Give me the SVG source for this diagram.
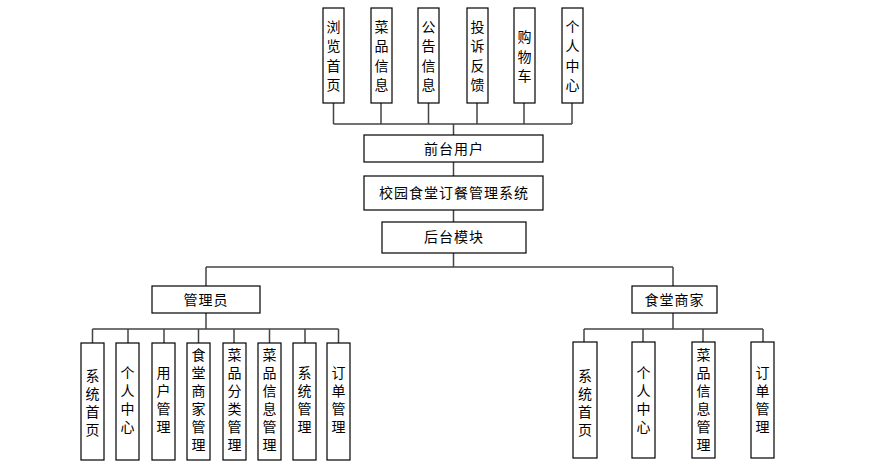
<svg xmlns="http://www.w3.org/2000/svg" width="885" height="466" viewBox="0 0 885 466">
<style>
.box{fill:#fff;stroke:#000;stroke-width:1.2}
.t{font-family:"Noto Sans CJK SC","Noto Sans",sans-serif;font-size:14px;fill:#000;text-anchor:middle}
.h{letter-spacing:1px}
.v{writing-mode:vertical-rl;letter-spacing:4px}
.vt{writing-mode:vertical-rl;letter-spacing:5.5px}
.c{fill:none;stroke:#444;stroke-width:1.5}
</style>
<rect width="885" height="466" fill="#fff"/>
<g id="connectors">
<path class="c" d="M333.5 103V124M381 103V124M428.5 103V124M477 103V124M524 103V124M572 103V124M333.5 124H572M453.5 124V135"/>
<path class="c" d="M453.5 162V176M453.5 210V222M453.5 253V267M206 267H673M206 267V286M673 267V286"/>
<path class="c" d="M206 313V329M92.5 329H338.5M92.5 329V343M128 329V343M164 329V343M198.5 329V343M234 329V343M269.5 329V343M305 329V343M338.5 329V343"/>
<path class="c" d="M673 313V329M584 329H763M584 329V342M643 329V342M703 329V342M763 329V342"/>
</g>
<g id="n-browse"><rect class="box" x="323" y="8" width="21" height="95"/><text class="t vt" x="333.5" y="58.5">浏览首页</text></g>
<g id="n-dish"><rect class="box" x="371" y="8" width="21" height="95"/><text class="t vt" x="381.5" y="58.5">菜品信息</text></g>
<g id="n-notice"><rect class="box" x="418" y="8" width="21" height="95"/><text class="t vt" x="428.5" y="58.5">公告信息</text></g>
<g id="n-complaint"><rect class="box" x="467" y="8" width="21" height="95"/><text class="t vt" x="477.5" y="58.5">投诉反馈</text></g>
<g id="n-cart"><rect class="box" x="514" y="8" width="21" height="95"/><text class="t vt" x="524.5" y="59">购物车</text></g>
<g id="n-personal"><rect class="box" x="562" y="8" width="21" height="95"/><text class="t vt" x="572.5" y="58.5">个人中心</text></g>
<g id="n-front"><rect class="box" x="364" y="135" width="179" height="27"/><text class="t h" x="454" y="154">前台用户</text></g>
<g id="n-system"><rect class="box" x="364" y="176" width="179" height="34"/><text class="t h" x="454" y="198">校园食堂订餐管理系统</text></g>
<g id="n-back"><rect class="box" x="382" y="222" width="144" height="31"/><text class="t h" x="454" y="242">后台模块</text></g>
<g id="n-admin"><rect class="box" x="152" y="286" width="108" height="27"/><text class="t h" x="206" y="304.5">管理员</text></g>
<g id="n-merchant"><rect class="box" x="632" y="286" width="85" height="27"/><text class="t h" x="674.5" y="304.5">食堂商家</text></g>
<g id="a-home"><rect class="box" x="81" y="343" width="23" height="117"/><text class="t v" x="92.5" y="405">系统首页</text></g>
<g id="a-personal"><rect class="box" x="116" y="343" width="23" height="117"/><text class="t v" x="127.5" y="402">个人中心</text></g>
<g id="a-user"><rect class="box" x="152" y="343" width="23" height="117"/><text class="t v" x="163.5" y="402">用户管理</text></g>
<g id="a-merchant"><rect class="box" x="187" y="343" width="23" height="117"/><text class="t v" x="198.5" y="402">食堂商家管理</text></g>
<g id="a-category"><rect class="box" x="223" y="343" width="23" height="117"/><text class="t v" x="234.5" y="402">菜品分类管理</text></g>
<g id="a-dish"><rect class="box" x="258" y="343" width="23" height="117"/><text class="t v" x="269.5" y="402">菜品信息管理</text></g>
<g id="a-sys"><rect class="box" x="293" y="343" width="23" height="117"/><text class="t v" x="304.5" y="402">系统管理</text></g>
<g id="a-order"><rect class="box" x="327" y="343" width="23" height="117"/><text class="t v" x="338.5" y="402">订单管理</text></g>
<g id="m-home"><rect class="box" x="573" y="342" width="24" height="116"/><text class="t v" x="585" y="405">系统首页</text></g>
<g id="m-personal"><rect class="box" x="632" y="342" width="23" height="116"/><text class="t v" x="643.5" y="402">个人中心</text></g>
<g id="m-dish"><rect class="box" x="692" y="342" width="23" height="116"/><text class="t v" x="703.5" y="402">菜品信息管理</text></g>
<g id="m-order"><rect class="box" x="751" y="342" width="23" height="116"/><text class="t v" x="762.5" y="402">订单管理</text></g>
</svg>
